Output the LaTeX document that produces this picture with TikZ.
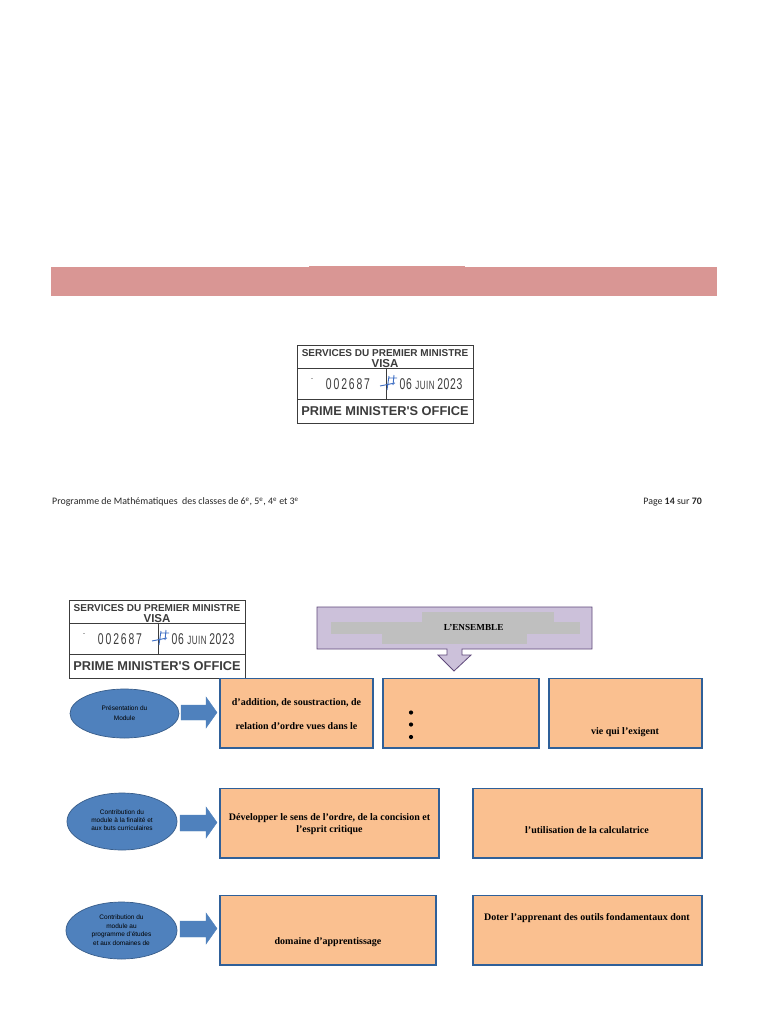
\documentclass[tikz,border=0pt]{standalone}
\usepackage{fontspec}
\setmainfont{Liberation Serif}
\newfontfamily\arialf{Liberation Sans}
\newfontfamily\numf[LetterSpace=18]{Liberation Sans}
\newfontfamily\datef[LetterSpace=6]{Liberation Sans}
\newfontfamily\calf{Carlito}
\definecolor{barpink}{HTML}{D99694}
\definecolor{lilac}{HTML}{CCC1DA}
\definecolor{lilacline}{HTML}{5F497A}
\definecolor{greyblock}{HTML}{BFBFBF}
\definecolor{peach}{HTML}{FAC090}
\definecolor{boxline}{HTML}{2F6099}
\definecolor{blobblue}{HTML}{4F81BD}
\definecolor{blobline}{HTML}{385D8A}
\definecolor{stampink}{HTML}{3C3C3C}
\definecolor{penblue}{HTML}{3F6FC4}
\newcommand{\fsz}[1]{\fontsize{#1}{#1}\selectfont}
\tikzset{
  peachbox/.style={draw=boxline,line width=1.5pt,fill=peach},
  boxtext/.style={font=\fsz{10}\bfseries,text=black,align=center,inner sep=0pt,yshift=-1pt},
  blob/.style={draw=blobline,line width=0.7pt,fill=blobblue},
  blobtext/.style={font=\arialf\fsz{6.5},text=black,align=center,inner sep=0pt},
  blockarrow/.style={draw=blobblue,line width=0.4pt,fill=blobblue},
  footer/.style={font=\calf\fsz{9.9},text=black!85,anchor=west,inner sep=0pt},
  stampline/.style={draw=stampink,line width=1pt},
  stamptext/.style={text=stampink,inner sep=0pt},
  stamp/.pic={
    \draw[stampline] (0,0) rectangle (176,78);
    \draw[stampline] (0,23) -- (176,23) (0,54) -- (176,54) (89,23) -- (89,54);
    \node[stamptext,font=\arialf\fsz{10}\bfseries] (-t1) at (88,8) {SERVICES DU PREMIER MINISTRE};
    \node[stamptext,font=\arialf\fsz{11.5}\bfseries] (-t2) at (88,18.5) {VISA};
    \node[stamptext,font=\arialf\fsz{9}] (-t3) at (15,34) {.};
    \node[stamptext] (-t4) at (51,39) {\scalebox{0.8}[1.2]{\numf\fsz{13}002687}};
    \node[stamptext] (-t5) at (134,39) {\scalebox{0.8}[1.2]{\datef\fsz{13}06 \fsz{10}JUIN \fsz{13}2023}};
    \node[stamptext,font=\arialf\fsz{12.8}\bfseries] (-t6) at (88,66) {PRIME MINISTER'S OFFICE};
    \draw[penblue,line width=0.9pt] (83,41) -- (98,38)
      (92,31) -- (90,45) (97,30) -- (96,40) (91.5,33) -- (100,33);
  }
}
\begin{document}
\begin{tikzpicture}[x=1pt,y=-1pt]
\useasboundingbox (0,0) rectangle (768,1024);
\fill[white] (0,0) rectangle (768,1024);
% page band
\fill[barpink] (51,267) rectangle (717,296);
\fill[barpink] (309,266) rectangle (465,268);
% stamps
\pic (stampa) at (297,345) {stamp};
\pic (stampb) at (69,600) {stamp};
% footer
\node[footer] (foota) at (52,502) {Programme de Mathématiques\ \ des classes de 6\textsuperscript{e}, 5\textsuperscript{e}, 4\textsuperscript{e} et 3\textsuperscript{e}};
\node[footer,anchor=east] (footb) at (702,502) {Page \textbf{14} sur \textbf{70}};
% title box
\draw[draw=lilacline,line width=0.8pt,fill=lilac] (317,607) -- (592,607) -- (592,649) -- (462,649) -- (462,655) -- (471,655) -- (454,671) -- (438,655) -- (447,655) -- (447,649) -- (317,649) -- cycle;
\fill[greyblock] (422,612) rectangle (554,622);
\fill[greyblock] (331,622) rectangle (580,634);
\fill[greyblock] (382,634) rectangle (527,644);
\node[boxtext,font=\fsz{9.2}\bfseries,yshift=1pt] (title) at (473.7,627.5) {L’ENSEMBLE};
% row 1
\draw[peachbox] (220,678.3) rectangle (373,748);
\node[boxtext] (ra) at (296.5,702) {d’addition, de soustraction, de};
\node[boxtext] (rb) at (296.5,725) {relation d’ordre vues dans le};
\draw[peachbox] (383,678.3) rectangle (539,748);
\fill[black] (411,712.5) circle (2.1) (411,724.5) circle (2.1) (411,737) circle (2.1);
\draw[peachbox] (549,678.3) rectangle (702,748);
\node[boxtext] (rc) at (625,731) {vie qui l’exigent};
% row 2
\draw[peachbox] (220,788.3) rectangle (439,858);
\node[boxtext] (rd) at (329.5,823) {Développer le sens de l’ordre, de la concision et\\[1.5pt]l’esprit critique};
\draw[peachbox] (473,788.3) rectangle (702,858);
\node[boxtext] (re) at (587,829) {l’utilisation de la calculatrice};
% row 3
\draw[peachbox] (220,895.3) rectangle (436,965);
\node[boxtext] (rf) at (328,941) {domaine d’apprentissage};
\draw[peachbox] (473,895.3) rectangle (702,965);
\node[boxtext] (rg) at (587,917) {Doter l’apprenant des outils fondamentaux dont};
% ellipses
\draw[blob] (124.5,713.5) ellipse (54.5 and 24.5);
\node[blobtext] (ea) at (124.5,713) {Présentation du\\[3.2pt]Module};
\draw[blob] (122,821.5) ellipse (55 and 28.5);
\node[blobtext] (eb) at (122,820.5) {Contribution du\\[1.6pt]module à la finalité et\\[1.6pt]aux buts curriculaires};
\draw[blob] (121.5,930.5) ellipse (55.5 and 28.5);
\node[blobtext] (ec) at (121.5,930) {Contribution du\\[2pt]module au\\[2pt]programme d’études\\[2pt]et aux domaines de};
% block arrows
\draw[blockarrow] (181,705) -- (206,705) -- (206,697) -- (217,712.5) -- (206,728) -- (206,720) -- (181,720) -- cycle;
\draw[blockarrow] (180,815) -- (206,815) -- (206,807) -- (217,822.5) -- (206,838) -- (206,831) -- (180,831) -- cycle;
\draw[blockarrow] (180,921) -- (206,921) -- (206,913) -- (217,928.5) -- (206,944) -- (206,937) -- (180,937) -- cycle;
\end{tikzpicture}
\end{document}
